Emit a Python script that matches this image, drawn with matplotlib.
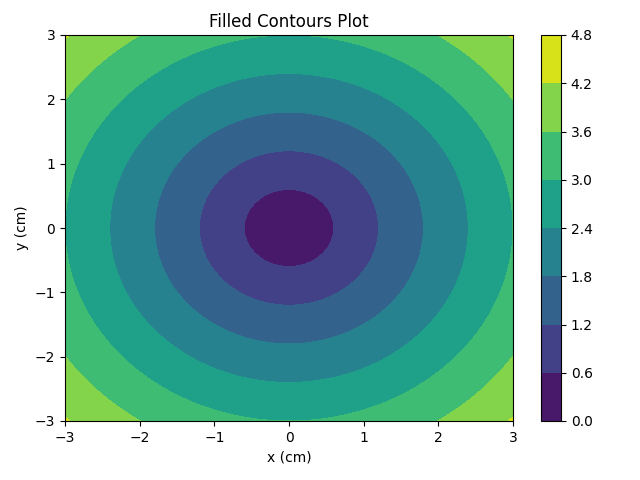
import numpy as np
import matplotlib
matplotlib.use("Agg")
import matplotlib.pyplot as plt

x_vals = np.linspace(-3.0, 3.0, 100)
y_vals = np.linspace(-3.0, 3.0, 100)
X, Y = np.meshgrid(x_vals, y_vals)
Z = np.sqrt(X**2 + Y**2)

W, H = 640, 480
fig = plt.figure(figsize=(6.4, 4.8), dpi=100)
ax = fig.add_axes([65 / W, (H - 421) / H, (513 - 65) / W, (421 - 35) / H])
cax = fig.add_axes([541 / W, (H - 421) / H, 20 / W, (421 - 35) / H])
cp = ax.contourf(X, Y, Z)
fig.colorbar(cp, cax=cax)
ax.set_title('Filled Contours Plot')
ax.set_xlabel('x (cm)')
ax.set_ylabel('y (cm)')
fig.savefig('out.png')
